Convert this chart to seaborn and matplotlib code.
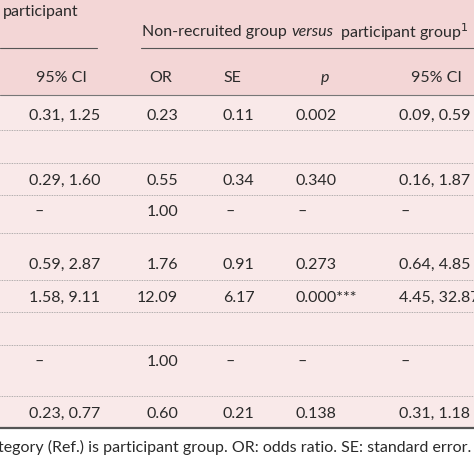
import matplotlib
matplotlib.use("Agg")
import matplotlib.pyplot as plt
import seaborn as sns

sns.set_style("white")
plt.rcParams['font.family'] = ['Lato', 'DejaVu Sans']

# table contents
ci1 = ["0.31, 1.25", "", "0.29, 1.60", "\u2013", "0.59, 2.87", "1.58, 9.11", "", "\u2013", "0.23, 0.77"]
odds = ["0.23", "", "0.55", "1.00", "1.76", "12.09", "", "1.00", "0.60"]
se = ["0.11", "", "0.34", "\u2013", "0.91", "6.17", "", "\u2013", "0.21"]
pval = ["0.002", "", "0.340", "\u2013", "0.273", "0.000***", "", "\u2013", "0.138"]
ci2 = ["0.09, 0.59", "", "0.16, 1.87", "\u2013", "0.64, 4.85", "4.45, 32.87", "", "\u2013", "0.31, 1.18"]
row_y = [116, 147, 181, 212, 265, 298, 330, 362, 414]
sep_y = [130, 163, 195, 233, 280, 312, 345, 396]

fig = plt.figure(figsize=(4.74, 4.74), dpi=100)
ax = fig.add_axes([0, 0, 1, 1])
ax.set_xlim(0, 474)
ax.set_ylim(474, 0)
ax.axis("off")

ax.axhspan(0, 95, color="#f3d6d6", lw=0)
ax.axhspan(95, 428, color="#f9e9e9", lw=0)
ax.axhline(95, color="#777777", lw=0.8)
ax.axhline(428, color="#555555", lw=1.6)
ax.plot([0, 97], [48, 48], color="#555555", lw=0.8)
ax.plot([141, 474], [48, 48], color="#555555", lw=0.8)
for y in sep_y:
    ax.axhline(y, color="#999999", lw=0.6, ls=(0, (1, 1)))

fs = 11.5
tc = "#2a2a2a"
ax.text(3, 12, "participant", fontsize=fs, color=tc, va="center")

# header pieces placed one after another
fig.canvas.draw()
r = fig.canvas.get_renderer()
x = 142
for part, st in [("Non-recruited group ", "normal"), ("versus", "italic"), (" participant group$^1$", "normal")]:
    t = ax.text(x, 32, part, fontsize=fs, color=tc, va="center", style=st)
    bb = t.get_window_extent(r)
    x += bb.width + (3 if st == "italic" else 0)

ax.text(87, 78, "95% CI", fontsize=fs, color=tc, va="center", ha="right")
ax.text(149, 78, "OR", fontsize=fs, color=tc, va="center")
ax.text(223, 78, "SE", fontsize=fs, color=tc, va="center")
ax.text(321, 78, "p", fontsize=fs, color=tc, va="center", style="italic")
ax.text(462, 78, "95% CI", fontsize=fs, color=tc, va="center", ha="right")

for i, y in enumerate(row_y):
    ax.text(29 if ci1[i] != "\u2013" else 35, y, ci1[i], fontsize=fs, color=tc, va="center")
    ax.text(178 if odds[i] else 0, y, odds[i], fontsize=fs, color=tc, va="center", ha="right")
    ax.text(223 if se[i] != "\u2013" else 226, y, se[i], fontsize=fs, color=tc, va="center")
    ax.text(296 if pval[i] != "\u2013" else 298, y, pval[i], fontsize=fs, color=tc, va="center")
    ax.text(399 if ci2[i] != "\u2013" else 401, y, ci2[i], fontsize=fs, color=tc, va="center")

ax.text(-2, 447, "tegory (Ref.) is participant group. OR: odds ratio. SE: standard error. CI: con",
        fontsize=fs, color=tc, va="center")

fig.savefig("out.png", dpi=100)
